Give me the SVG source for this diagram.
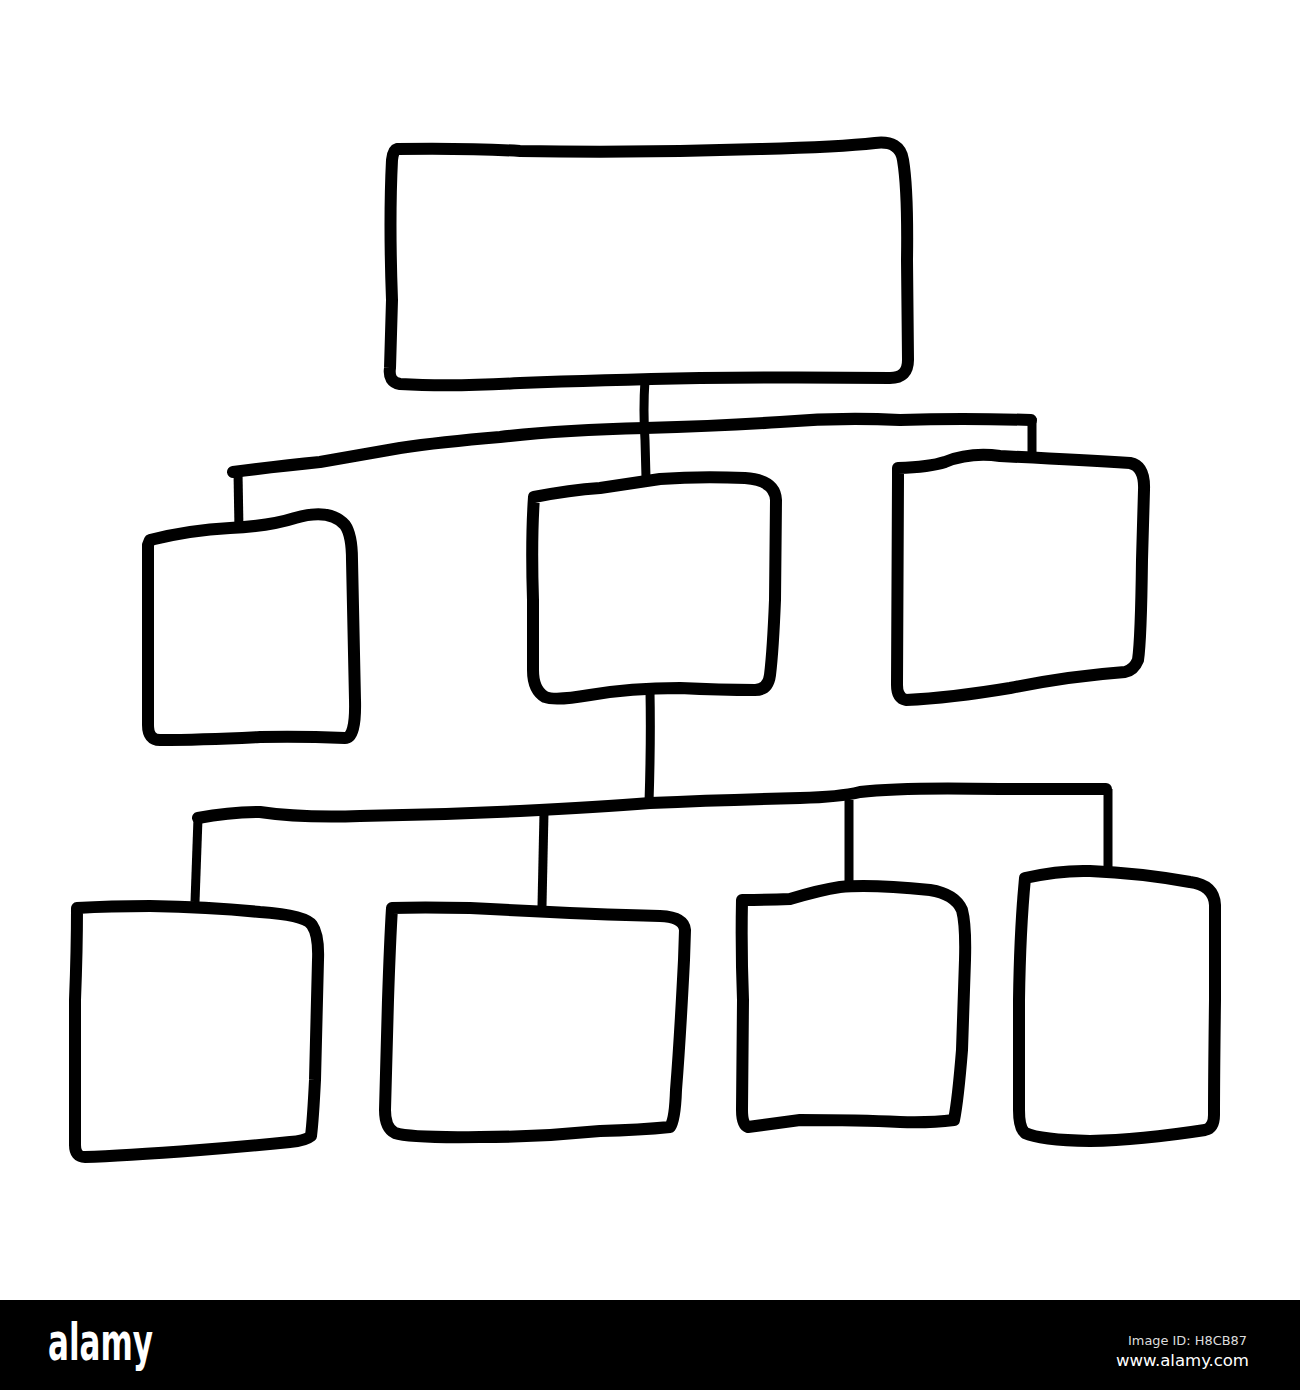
<svg xmlns="http://www.w3.org/2000/svg" width="1300" height="1390" viewBox="0 0 1300 1390">
<style>
.box{fill:none;stroke:#000;stroke-width:12;stroke-linejoin:round;stroke-linecap:round}
.bar{fill:none;stroke:#000;stroke-width:12;stroke-linecap:round;stroke-linejoin:round}
.drop{fill:none;stroke:#000;stroke-width:9;stroke-linecap:butt}
</style>
<rect width="1300" height="1390" fill="#fff"/>
<g id="connectors">
<path class="drop" d="M645,380 Q643,410 645,440 L646,478"/>
<path class="bar" d="M233,472 Q280,466 320,462 Q360,455 400,448 Q440,442 500,437 Q560,430 645,428 Q720,426 780,422 Q840,417 900,420 Q960,418 1031,420"/>
<path class="drop" d="M1032,418 L1032,456"/>
<path class="drop" d="M238,472 L239,530"/>
<path class="drop" d="M650,692 Q651,740 649,803"/>
<path class="bar" d="M198,818 Q230,812 260,812 Q300,818 360,816 Q440,815 520,811 Q600,807 650,803 Q720,800 800,798 Q840,797 860,792 Q900,787 1000,789 L1106,789"/>
<path class="drop" d="M198,818 L195,902"/>
<path class="drop" d="M544,812 L542,906"/>
<path class="drop" d="M849,800 L849,884"/>
<path class="drop" d="M1108,789 L1108,870"/>
</g>
<g id="node-top">
<path class="box" d="M397,149 Q470,148 520,151 Q640,153 760,149 Q840,147 875,143 Q900,140 903,160 Q908,190 907,260 L908,360 Q908,378 890,378 Q800,377 700,378 Q600,380 520,383 Q450,387 400,384 Q388,382 390,368 L392,300 Q389,220 392,160 Q393,150 397,149 Z"/>
</g>
<g id="node-mid-left">
<path class="box" d="M150,540 Q190,530 230,528 Q270,526 295,518 Q330,508 345,525 Q352,535 352,560 L355,700 Q356,738 345,738 Q300,736 260,737 Q200,740 160,740 Q148,740 148,725 L148,545 Z"/>
</g>
<g id="node-mid-center">
<path class="box" d="M534,497 Q570,490 600,488 Q640,482 660,479 Q700,476 745,478 Q775,480 776,500 L775,600 Q773,650 770,675 Q768,690 755,690 Q720,690 680,688 Q630,688 590,695 Q555,701 545,697 Q533,690 533,670 L533,600 Q531,540 534,497 Z"/>
</g>
<g id="node-mid-right">
<path class="box" d="M898,468 Q930,467 945,462 Q970,452 1000,456 Q1080,460 1130,463 Q1145,466 1144,490 L1142,560 Q1141,640 1138,660 Q1134,670 1125,672 Q1070,676 1010,688 Q950,698 906,700 Q897,698 897,685 L898,478 Z"/>
</g>
<g id="node-bot-1">
<path class="box" d="M77,908 Q110,906 150,906 Q210,907 260,912 Q305,915 312,925 Q319,935 318,960 L315,1080 Q313,1120 311,1136 Q305,1141 290,1142 Q250,1146 200,1150 Q120,1156 85,1157 Q75,1157 75,1145 L75,1000 Q77,950 77,908 Z"/>
</g>
<g id="node-bot-2">
<path class="box" d="M392,908 Q420,907 470,908 Q580,914 660,916 Q684,917 685,930 L684,960 Q680,1040 676,1090 Q675,1120 670,1127 Q640,1130 600,1131 Q540,1137 480,1137 Q410,1138 395,1133 Q385,1128 385,1110 L388,1000 Q390,940 392,908 Z"/>
</g>
<g id="node-bot-3">
<path class="box" d="M742,900 Q770,900 790,899 Q820,890 840,887 Q870,884 930,890 Q955,894 962,910 Q966,925 965,960 L962,1050 Q958,1100 954,1120 Q930,1123 900,1122 Q860,1120 800,1120 Q770,1124 748,1127 Q742,1125 742,1110 L743,1000 Q741,950 742,900 Z"/>
</g>
<g id="node-bot-4">
<path class="box" d="M1025,878 Q1060,870 1090,871 Q1140,873 1190,882 Q1214,885 1215,905 L1215,1000 Q1214,1080 1214,1115 Q1214,1128 1205,1130 Q1140,1140 1090,1141 Q1040,1140 1025,1133 Q1019,1128 1019,1110 L1019,1000 Q1020,930 1025,878 Z"/>
</g>
<g id="footer">
<rect x="0" y="1300" width="1300" height="90" fill="#000"/>
<text x="48" y="1360" font-family="DejaVu Sans Condensed, DejaVu Sans, sans-serif" font-weight="bold" font-size="52" fill="#fff" textLength="105" lengthAdjust="spacingAndGlyphs">alamy</text>
<text x="1128" y="1345" font-family="DejaVu Sans Condensed, DejaVu Sans, sans-serif" font-size="13" fill="#ddd" textLength="119" lengthAdjust="spacingAndGlyphs">Image ID: H8CB87</text>
<text x="1116" y="1366" font-family="DejaVu Sans Condensed, DejaVu Sans, sans-serif" font-size="16" fill="#fff" textLength="133" lengthAdjust="spacingAndGlyphs">www.alamy.com</text>
</g>
</svg>
